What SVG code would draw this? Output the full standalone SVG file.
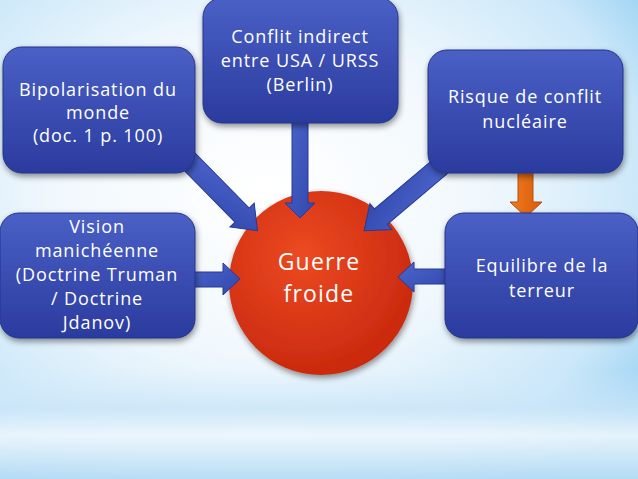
<svg xmlns="http://www.w3.org/2000/svg" width="638" height="479" viewBox="0 0 638 479">
<defs>
<radialGradient id="bg" cx="0.42" cy="0.4" r="0.75">
<stop offset="0" stop-color="#ffffff"/>
<stop offset="0.45" stop-color="#f1f8fd"/>
<stop offset="0.8" stop-color="#cae7f9"/>
<stop offset="1" stop-color="#93cef2"/>
</radialGradient>
<linearGradient id="bottom" x1="0" y1="0" x2="0" y2="1">
<stop offset="0" stop-color="#d6ecfa" stop-opacity="0"/>
<stop offset="0.35" stop-color="#cbe6f8" stop-opacity="0.8"/>
<stop offset="0.6" stop-color="#eef7fd" stop-opacity="0.9"/>
<stop offset="1" stop-color="#b7dcf5" stop-opacity="0.9"/>
</linearGradient>
<linearGradient id="box" x1="0" y1="0" x2="0" y2="1">
<stop offset="0" stop-color="#4a60c6"/>
<stop offset="1" stop-color="#2b3b9e"/>
</linearGradient>
<linearGradient id="arr" x1="0" y1="0" x2="1" y2="1">
<stop offset="0" stop-color="#4d66cc"/>
<stop offset="1" stop-color="#3147ad"/>
</linearGradient>
<linearGradient id="orange" x1="0" y1="0" x2="1" y2="0">
<stop offset="0" stop-color="#f07a1c"/>
<stop offset="1" stop-color="#d85c0c"/>
</linearGradient>
<radialGradient id="red" cx="0.4" cy="0.35" r="0.7">
<stop offset="0" stop-color="#ec4a22"/>
<stop offset="1" stop-color="#c8270d"/>
</radialGradient>
<filter id="sh" x="-20%" y="-20%" width="140%" height="140%">
<feGaussianBlur in="SourceAlpha" stdDeviation="3"/>
<feOffset dx="1" dy="3" result="b"/>
<feComponentTransfer><feFuncA type="linear" slope="0.45"/></feComponentTransfer>
<feMerge><feMergeNode/><feMergeNode in="SourceGraphic"/></feMerge>
</filter>
</defs>
<style>
.box{fill:url(#box);stroke:#25348a;stroke-width:1;filter:url(#sh)}
.t{font-family:"Open Sans","Liberation Sans",sans-serif;font-size:18px;letter-spacing:0.9px;fill:#ffffff;text-anchor:middle}
.big{font-family:"Open Sans","Liberation Sans",sans-serif;font-size:23px;letter-spacing:1.2px;fill:#ffffff;text-anchor:middle}
.a{fill:url(#arr);stroke:#283a94;stroke-width:1}
.o{fill:url(#orange);stroke:#b84f0c;stroke-width:1}
</style>
<rect width="638" height="479" fill="url(#bg)"/>
<rect y="370" width="638" height="109" fill="url(#bottom)"/>

<g id="guerre-froide">
<circle cx="321" cy="283" r="92" fill="url(#red)" filter="url(#sh)"/>
<text class="big" x="319" y="270">Guerre</text>
<text class="big" x="319" y="302">froide</text>
</g>

<g id="connectors">
<polygon class="a" transform="translate(186,158) rotate(45.5)" points="0,-10 80,-10 80,-17 102,0 80,17 80,10 0,10"/>
<polygon class="a" points="292,115 308,115 308,203 315,203 300,218 285,203 292,203"/>
<polygon class="a" transform="translate(442,165) rotate(139.8)" points="0,-10 80,-10 80,-17 102,0 80,17 80,10 0,10"/>
<polygon class="a" points="185,272 223,272 223,263 240,279 223,295 223,287 185,287"/>
<polygon class="a" points="450,269 414,269 414,262 398,277 414,292 414,284 450,284"/>
<polygon class="o" points="518,165 533,165 533,202 542,202 526,217 510,202 518,202"/>
</g>

<g id="bipolarisation">
<rect class="box" x="3" y="47" width="192" height="126" rx="19"/>
<text class="t" x="98" y="96">Bipolarisation du</text>
<text class="t" x="98" y="119">monde</text>
<text class="t" x="98" y="142">(doc. 1 p. 100)</text>
</g>

<g id="conflit-indirect">
<rect class="box" x="203" y="-2" width="195" height="125" rx="19"/>
<text class="t" x="300" y="43">Conflit indirect</text>
<text class="t" x="300" y="67">entre USA / URSS</text>
<text class="t" x="300" y="91">(Berlin)</text>
</g>

<g id="risque-nucleaire">
<rect class="box" x="428" y="50" width="195" height="123" rx="19"/>
<text class="t" x="525" y="103">Risque de conflit</text>
<text class="t" x="525" y="128">nucléaire</text>
</g>

<g id="vision-manicheenne">
<rect class="box" x="0" y="213" width="195" height="125" rx="19"/>
<text class="t" x="97" y="233">Vision</text>
<text class="t" x="97" y="257">manichéenne</text>
<text class="t" x="97" y="281">(Doctrine Truman</text>
<text class="t" x="97" y="305">/ Doctrine</text>
<text class="t" x="97" y="329">Jdanov)</text>
</g>

<g id="equilibre-terreur">
<rect class="box" x="445" y="213" width="193" height="125" rx="19"/>
<text class="t" x="542" y="272">Equilibre de la</text>
<text class="t" x="542" y="297">terreur</text>
</g>
</svg>
